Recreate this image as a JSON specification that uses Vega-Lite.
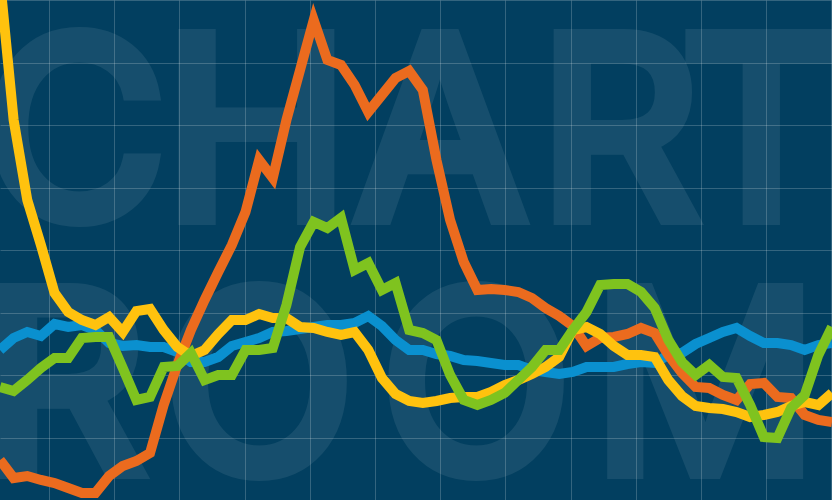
{
  "$schema": "https://vega.github.io/schema/vega-lite/v6.json",
  "width": 832,
  "height": 500,
  "autosize": {"type": "fit", "contains": "padding"},
  "padding": 0,
  "background": "#023f60",
  "config": {
    "view": {"stroke": null},
    "axis": {
      "labels": false,
      "ticks": false,
      "domain": false,
      "title": null,
      "minExtent": 0,
      "maxExtent": 0,
      "gridColor": "#ffffff",
      "gridOpacity": 0.2,
      "gridWidth": 1
    }
  },
  "datasets": {
    "letters": [
      {"ch": "C", "t": 5.5, "v": 56.4},
      {"ch": "H", "t": 18.8, "v": 56.4},
      {"ch": "A", "t": 32.3, "v": 56.4},
      {"ch": "R", "t": 45.4, "v": 56.4},
      {"ch": "T", "t": 55.8, "v": 56.4},
      {"ch": "R", "t": 4.8, "v": 5.6},
      {"ch": "O", "t": 19.0, "v": 5.6},
      {"ch": "O", "t": 34.9, "v": 5.6},
      {"ch": "M", "t": 51.7, "v": 5.6}
    ],
    "series": [
      {"t": 0, "yellow": 104, "orange": 8, "green": 22.6, "blue": 30},
      {"t": 1, "yellow": 76, "orange": 4.4, "green": 21.8, "blue": 32.4},
      {"t": 2, "yellow": 60, "orange": 4.8, "green": 24, "blue": 33.6},
      {"t": 3, "yellow": 51, "orange": 4, "green": 26.4, "blue": 32.8},
      {"t": 4, "yellow": 41.4, "orange": 3.4, "green": 28.4, "blue": 35.2},
      {"t": 5, "yellow": 37.6, "orange": 2.4, "green": 28.4, "blue": 34.6},
      {"t": 6, "yellow": 36, "orange": 1.4, "green": 32.4, "blue": 35},
      {"t": 7, "yellow": 35, "orange": 1.4, "green": 32.6, "blue": 34},
      {"t": 8, "yellow": 36.6, "orange": 4.8, "green": 32.6, "blue": 31.4},
      {"t": 9, "yellow": 33.6, "orange": 6.8, "green": 26.4, "blue": 30.8},
      {"t": 10, "yellow": 37.8, "orange": 7.8, "green": 20, "blue": 31},
      {"t": 11, "yellow": 38.2, "orange": 9.4, "green": 20.6, "blue": 30.6},
      {"t": 12, "yellow": 34, "orange": 19, "green": 26.6, "blue": 30.6},
      {"t": 13, "yellow": 30.6, "orange": 27, "green": 26.8, "blue": 29.6},
      {"t": 14, "yellow": 28.8, "orange": 34, "green": 29.4, "blue": 27.6},
      {"t": 15, "yellow": 30, "orange": 40, "green": 24, "blue": 27.6},
      {"t": 16, "yellow": 33.2, "orange": 45.6, "green": 25, "blue": 28.6},
      {"t": 17, "yellow": 36, "orange": 51, "green": 25, "blue": 30.8},
      {"t": 18, "yellow": 36, "orange": 57.6, "green": 30, "blue": 31.6},
      {"t": 19, "yellow": 37.2, "orange": 68, "green": 30, "blue": 32.4},
      {"t": 20, "yellow": 36.4, "orange": 64.4, "green": 30.4, "blue": 33.6},
      {"t": 21, "yellow": 36.4, "orange": 76, "green": 39, "blue": 33.8},
      {"t": 22, "yellow": 34.6, "orange": 86, "green": 50.6, "blue": 34.2},
      {"t": 23, "yellow": 34.4, "orange": 96, "green": 55.6, "blue": 34.6},
      {"t": 24, "yellow": 33.6, "orange": 88, "green": 54.4, "blue": 35},
      {"t": 25, "yellow": 33, "orange": 87, "green": 56.4, "blue": 35},
      {"t": 26, "yellow": 33.6, "orange": 83, "green": 46, "blue": 35.4},
      {"t": 27, "yellow": 30, "orange": 77.6, "green": 47.4, "blue": 36.8},
      {"t": 28, "yellow": 24.4, "orange": 81, "green": 42, "blue": 34.8},
      {"t": 29, "yellow": 21.2, "orange": 84.4, "green": 43.4, "blue": 32},
      {"t": 30, "yellow": 19.8, "orange": 85.8, "green": 34, "blue": 30},
      {"t": 31, "yellow": 19.4, "orange": 82, "green": 33.4, "blue": 30},
      {"t": 32, "yellow": 19.8, "orange": 68, "green": 32, "blue": 29.2},
      {"t": 33, "yellow": 20.4, "orange": 56, "green": 25, "blue": 28.8},
      {"t": 34, "yellow": 20.6, "orange": 47.6, "green": 20, "blue": 28},
      {"t": 35, "yellow": 20.6, "orange": 42, "green": 19, "blue": 27.8},
      {"t": 36, "yellow": 21.6, "orange": 42.2, "green": 20, "blue": 27.4},
      {"t": 37, "yellow": 23, "orange": 42, "green": 21.4, "blue": 27},
      {"t": 38, "yellow": 24, "orange": 41.6, "green": 24, "blue": 27},
      {"t": 39, "yellow": 25.2, "orange": 40.4, "green": 26.6, "blue": 26},
      {"t": 40, "yellow": 26.6, "orange": 38.4, "green": 30, "blue": 25.6},
      {"t": 41, "yellow": 28.6, "orange": 36.8, "green": 30, "blue": 25.2},
      {"t": 42, "yellow": 34, "orange": 34.8, "green": 34, "blue": 25.6},
      {"t": 43, "yellow": 34.6, "orange": 30.8, "green": 37.6, "blue": 26.6},
      {"t": 44, "yellow": 33.2, "orange": 32.4, "green": 43, "blue": 26.6},
      {"t": 45, "yellow": 30.8, "orange": 32.6, "green": 43.2, "blue": 26.6},
      {"t": 46, "yellow": 29, "orange": 33.2, "green": 43.2, "blue": 27.2},
      {"t": 47, "yellow": 29, "orange": 34.4, "green": 41.6, "blue": 27.6},
      {"t": 48, "yellow": 28.6, "orange": 33.4, "green": 38.4, "blue": 27.4},
      {"t": 49, "yellow": 24, "orange": 29, "green": 32, "blue": 29},
      {"t": 50, "yellow": 20.8, "orange": 25.4, "green": 27.6, "blue": 29.4},
      {"t": 51, "yellow": 18.8, "orange": 22.6, "green": 25, "blue": 31.2},
      {"t": 52, "yellow": 18.4, "orange": 22.4, "green": 27, "blue": 32.4},
      {"t": 53, "yellow": 18.2, "orange": 21, "green": 24.6, "blue": 33.6},
      {"t": 54, "yellow": 17.6, "orange": 20, "green": 24.4, "blue": 34.4},
      {"t": 55, "yellow": 16.6, "orange": 23.2, "green": 19, "blue": 32.8},
      {"t": 56, "yellow": 17, "orange": 23.4, "green": 12.6, "blue": 31.4},
      {"t": 57, "yellow": 17.6, "orange": 20.6, "green": 12.4, "blue": 31.4},
      {"t": 58, "yellow": 18.8, "orange": 20.4, "green": 18.4, "blue": 31},
      {"t": 59, "yellow": 19.6, "orange": 17, "green": 21, "blue": 30},
      {"t": 60, "yellow": 19, "orange": 16, "green": 29, "blue": 31},
      {"t": 61, "yellow": 21.4, "orange": 15.6, "green": 34.6, "blue": 31.4}
    ]
  },
  "encoding": {
    "x": {
      "field": "t",
      "type": "quantitative",
      "scale": {"domain": [0, 61], "nice": false, "zero": false},
      "axis": {"values": [3.59, 8.37, 13.15, 17.93, 22.71, 27.49, 32.27, 37.05, 41.83, 46.61, 51.39, 56.17, 60.95]}
    },
    "y": {
      "field": "v",
      "type": "quantitative",
      "scale": {"domain": [0, 100], "nice": false, "zero": false},
      "axis": {"values": [0, 12.5, 25, 37.5, 50, 62.5, 75, 87.5, 100]}
    }
  },
  "layer": [
    {
      "data": {"name": "letters"},
      "mark": {
        "type": "text",
        "font": "Inter",
        "fontSize": 250,
        "align": "center",
        "baseline": "alphabetic",
        "fill": "#ffffff",
        "stroke": "#ffffff",
        "strokeWidth": 14,
        "strokeJoin": "miter",
        "opacity": 0.08,
        "clip": true
      },
      "encoding": {"text": {"field": "ch"}}
    },
    {
      "data": {"name": "series"},
      "transform": [
        {"fold": ["blue", "orange", "yellow", "green"], "as": ["series", "v"]}
      ],
      "mark": {"type": "line", "strokeWidth": 10, "clip": true},
      "encoding": {
        "color": {
          "field": "series",
          "type": "nominal",
          "legend": null,
          "sort": ["blue", "orange", "yellow", "green"],
          "scale": {
            "domain": ["blue", "orange", "yellow", "green"],
            "range": ["#0a90cf", "#eb6b1e", "#ffc20e", "#7fc31f"]
          }
        }
      }
    }
  ]
}
